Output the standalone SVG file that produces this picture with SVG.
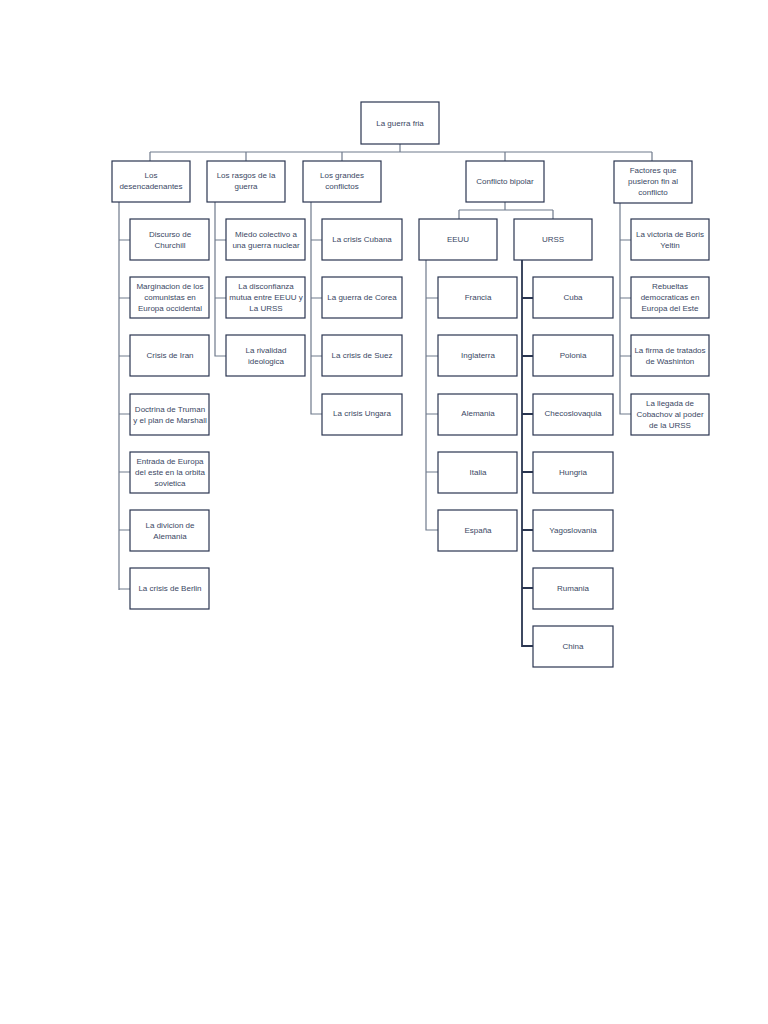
<svg xmlns="http://www.w3.org/2000/svg" width="768" height="1024" viewBox="0 0 768 1024">
<style>
.b{fill:#fff;stroke:#2a3550;stroke-width:1.2}
.c{fill:none;stroke:#6f7a8c;stroke-width:1.2}
.t{font-family:"Liberation Sans",Arial,sans-serif;font-size:8px;fill:#3a4763;text-anchor:middle}
</style>
<rect width="768" height="1024" fill="#fff"/>
<g id="connectors">
<path class="c" d="M400 144V152M150 152H652M150 152V161M246 152V161M342 152V161M505 152V161M652 152V161"/>
<path class="c" d="M119 202V590M119 240H130M119 298H130M119 356H130M119 414H130M119 472H130M119 530H130M119 589H130"/>
<path class="c" d="M215 202V356H226M215 240H226M215 298H226"/>
<path class="c" d="M311 202V414H322M311 240H322M311 298H322M311 356H322"/>
<path class="c" d="M505 202V210M459 210H553M459 210V219M553 210V219"/>
<path class="c" d="M426 260V530H438M426 298H438M426 356H438M426 414H438M426 472H438"/>
<path class="c" d="M522 260V646H533M522 298H533M522 356H533M522 414H533M522 472H533M522 530H533M522 588H533" style="stroke:#2a3550;stroke-width:1.8"/>
<path class="c" d="M620 203V414H631M620 240H631M620 298H631M620 356H631"/>
</g>
<g id="root"><rect class="b" x="361" y="102" width="78" height="42"/><text class="t" x="400" y="126">La guerra fria</text></g>
<g id="n1"><rect class="b" x="112" y="161" width="78" height="41"/><text class="t" x="151" y="178">Los</text><text class="t" x="151" y="189">desencadenantes</text></g>
<g id="n2"><rect class="b" x="207" y="161" width="78" height="41"/><text class="t" x="246" y="178">Los rasgos de la</text><text class="t" x="246" y="189">guerra</text></g>
<g id="n3"><rect class="b" x="303" y="161" width="78" height="41"/><text class="t" x="342" y="178">Los grandes</text><text class="t" x="342" y="189">conflictos</text></g>
<g id="n4"><rect class="b" x="466" y="161" width="78" height="41"/><text class="t" x="505" y="184">Conflicto bipolar</text></g>
<g id="n5"><rect class="b" x="614" y="161" width="78" height="42"/><text class="t" x="653" y="173">Factores que</text><text class="t" x="653" y="184">pusieron fin al</text><text class="t" x="653" y="195">conflicto</text></g>
<g id="d1"><rect class="b" x="130" y="219" width="79" height="41"/><text class="t" x="170" y="237">Discurso de</text><text class="t" x="170" y="248">Churchill</text></g>
<g id="d2"><rect class="b" x="130" y="277" width="79" height="41"/><text class="t" x="170" y="289">Marginacion de los</text><text class="t" x="170" y="300">comunistas en</text><text class="t" x="170" y="311">Europa occidental</text></g>
<g id="d3"><rect class="b" x="130" y="335" width="79" height="41"/><text class="t" x="170" y="358">Crisis de Iran</text></g>
<g id="d4"><rect class="b" x="130" y="394" width="79" height="41"/><text class="t" x="170" y="412">Doctrina de Truman</text><text class="t" x="170" y="423">y el plan de Marshall</text></g>
<g id="d5"><rect class="b" x="130" y="452" width="79" height="41"/><text class="t" x="170" y="464">Entrada de Europa</text><text class="t" x="170" y="475">del este en la orbita</text><text class="t" x="170" y="486">sovietica</text></g>
<g id="d6"><rect class="b" x="130" y="510" width="79" height="41"/><text class="t" x="170" y="528">La divicion de</text><text class="t" x="170" y="539">Alemania</text></g>
<g id="d7"><rect class="b" x="130" y="568" width="79" height="41"/><text class="t" x="170" y="591">La crisis de Berlin</text></g>
<g id="r1"><rect class="b" x="226" y="219" width="79" height="41"/><text class="t" x="266" y="237">Miedo colectivo a</text><text class="t" x="266" y="248">una guerra nuclear</text></g>
<g id="r2"><rect class="b" x="226" y="277" width="79" height="41"/><text class="t" x="266" y="289">La disconfianza</text><text class="t" x="266" y="300">mutua entre EEUU y</text><text class="t" x="266" y="311">La URSS</text></g>
<g id="r3"><rect class="b" x="226" y="335" width="79" height="41"/><text class="t" x="266" y="353">La rivalidad</text><text class="t" x="266" y="364">ideologica</text></g>
<g id="g1"><rect class="b" x="322" y="219" width="80" height="41"/><text class="t" x="362" y="242">La crisis Cubana</text></g>
<g id="g2"><rect class="b" x="322" y="277" width="80" height="41"/><text class="t" x="362" y="300">La guerra de Corea</text></g>
<g id="g3"><rect class="b" x="322" y="335" width="80" height="41"/><text class="t" x="362" y="358">La crisis de Suez</text></g>
<g id="g4"><rect class="b" x="322" y="394" width="80" height="41"/><text class="t" x="362" y="416">La crisis Ungara</text></g>
<g id="eeuu"><rect class="b" x="419" y="219" width="78" height="41"/><text class="t" x="458" y="242">EEUU</text></g>
<g id="urss"><rect class="b" x="514" y="219" width="78" height="41"/><text class="t" x="553" y="242">URSS</text></g>
<g id="e1"><rect class="b" x="438" y="277" width="79" height="41"/><text class="t" x="478" y="300">Francia</text></g>
<g id="e2"><rect class="b" x="438" y="335" width="79" height="41"/><text class="t" x="478" y="358">Inglaterra</text></g>
<g id="e3"><rect class="b" x="438" y="394" width="79" height="41"/><text class="t" x="478" y="416">Alemania</text></g>
<g id="e4"><rect class="b" x="438" y="452" width="79" height="41"/><text class="t" x="478" y="475">Italia</text></g>
<g id="e5"><rect class="b" x="438" y="510" width="79" height="41"/><text class="t" x="478" y="533">España</text></g>
<g id="u1"><rect class="b" x="533" y="277" width="80" height="41"/><text class="t" x="573" y="300">Cuba</text></g>
<g id="u2"><rect class="b" x="533" y="335" width="80" height="41"/><text class="t" x="573" y="358">Polonia</text></g>
<g id="u3"><rect class="b" x="533" y="394" width="80" height="41"/><text class="t" x="573" y="416">Checoslovaquia</text></g>
<g id="u4"><rect class="b" x="533" y="452" width="80" height="41"/><text class="t" x="573" y="475">Hungria</text></g>
<g id="u5"><rect class="b" x="533" y="510" width="80" height="41"/><text class="t" x="573" y="533">Yagoslovania</text></g>
<g id="u6"><rect class="b" x="533" y="568" width="80" height="41"/><text class="t" x="573" y="591">Rumania</text></g>
<g id="u7"><rect class="b" x="533" y="626" width="80" height="41"/><text class="t" x="573" y="649">China</text></g>
<g id="f1"><rect class="b" x="631" y="219" width="78" height="41"/><text class="t" x="670" y="237">La victoria de Boris</text><text class="t" x="670" y="248">Yeltin</text></g>
<g id="f2"><rect class="b" x="631" y="277" width="78" height="41"/><text class="t" x="670" y="289">Rebueltas</text><text class="t" x="670" y="300">democraticas en</text><text class="t" x="670" y="311">Europa del Este</text></g>
<g id="f3"><rect class="b" x="631" y="335" width="78" height="41"/><text class="t" x="670" y="353">La firma de tratados</text><text class="t" x="670" y="364">de Washinton</text></g>
<g id="f4"><rect class="b" x="631" y="394" width="78" height="41"/><text class="t" x="670" y="406">La llegada de</text><text class="t" x="670" y="417">Cobachov al poder</text><text class="t" x="670" y="428">de la URSS</text></g>
</svg>
